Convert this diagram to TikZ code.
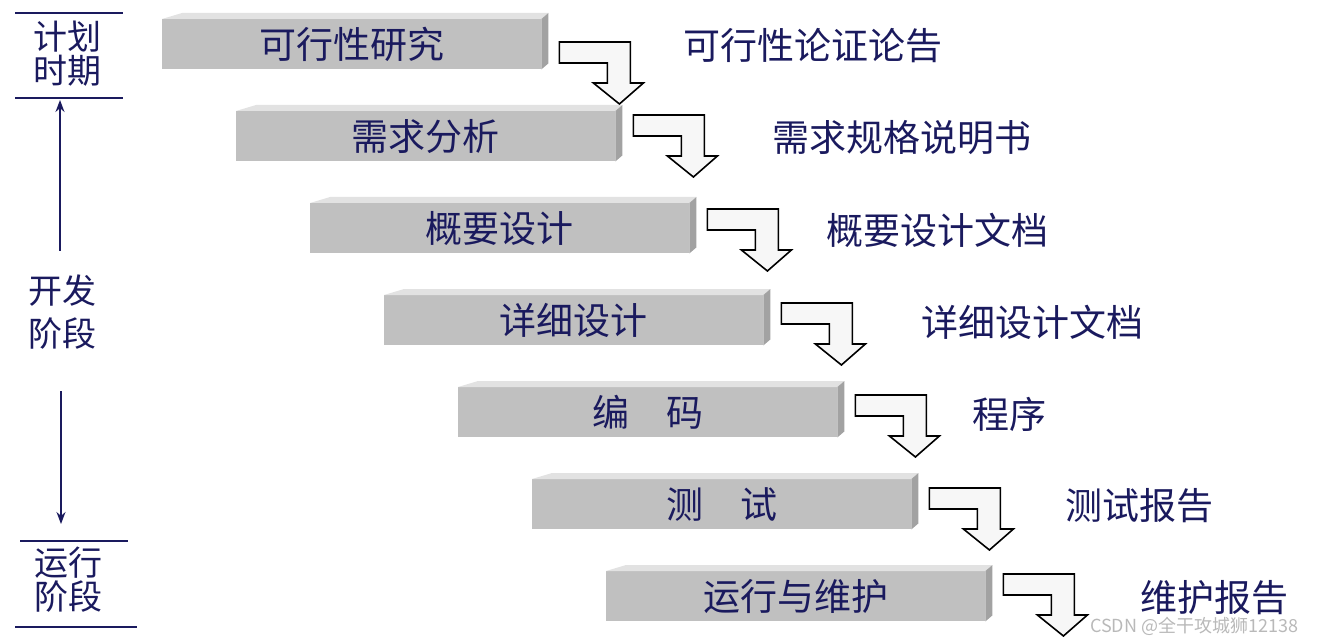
\documentclass[tikz,border=0pt]{standalone}
\usepackage{fontspec}
\setmainfont{Noto Sans CJK SC}
\usepackage{xcolor}
\usetikzlibrary{positioning,calc,arrows.meta}
\definecolor{navy}{HTML}{1A1A5E}
\definecolor{boxface}{HTML}{C0C0C0}
\definecolor{boxtop}{HTML}{E2E2E2}
\definecolor{boxside}{HTML}{A2A2A2}
\definecolor{arrowfill}{HTML}{F7F7F7}
\tikzset{
    stagebox/.style={anchor=north west, fill=boxface, minimum width=379pt, minimum height=50pt,
        inner sep=0pt, text=navy, font=\fontsize{37}{40}\selectfont},
    doclabel/.style={anchor=west, inner sep=0pt, text=navy, font=\fontsize{37}{40}\selectfont},
    phaselabel/.style={align=center, inner sep=0pt, text=navy, font=\fontsize{34}{34}\selectfont},
    phaseline/.style={draw=navy, line width=1.6pt},
    phasearrow/.style={draw=navy, line width=1.6pt, -{Stealth[length=12pt,width=9pt]}},
    bendarrow/.style={draw=black, fill=arrowfill, line width=1.6pt, line join=miter}
}
\begin{document}
\begin{tikzpicture}[x=1pt, y=-1pt]
        \useasboundingbox (0,0) rectangle (1337,644);

        % stages, bevels, bent arrows and documents
        \foreach \i/\stage/\doc/\docx/\at in {1/可行性研究/可行性论证论告/683/42,
                2/需求分析/需求规格说明书/772/115,
                3/概要设计/概要设计文档/826/209,
                4/详细设计/详细设计文档/921/303,
                5/编\quad 码/程序/972/395,
                6/测\quad 试/测试报告/1065/488,
                7/运行与维护/维护报告/1140/574}{
            \node[stagebox] (s\i) at ({162+74*(\i-1)},{19+92*(\i-1)}) {\stage};
            \fill[boxtop] (s\i.north west) -- ++(20,-6) -- ([xshift=7pt,yshift=6pt]s\i.north east) -- (s\i.north east) -- cycle;
            \fill[boxside] (s\i.north east) -- ++(7,-6) -- ([xshift=7pt,yshift=6pt]s\i.south east) -- (s\i.south east) -- cycle;
            \draw[bendarrow] ([xshift=18pt]s\i.north east |- 0,\at) -- ++(71,0) -- ++(0,41) -- ++(13,0)
                -- ++(-24,21) -- ++(-26,-21) -- ++(14,0) -- ++(0,-20) -- ++(-48,0) -- cycle;
            \node[doclabel] (d\i) at (\docx,{46+92*(\i-1)}) {\doc};
        }

        % phases on the left
        \node[phaselabel] (plan) at (67,54) {计划\\时期};
        \node[phaselabel, font=\fontsize{34}{43}\selectfont] (dev) at (62,312) {开发\\阶段};
        \node[phaselabel] (run) at (68,580) {运行\\阶段};

        \draw[phaseline] (15,13) -- (123,13);
        \draw[phaseline] (15,98) coordinate (planrule) -- (123,98);
        \draw[phaseline] (20,541) coordinate (runrule) -- (128,541);
        \draw[phaseline] (15,627) -- (137,627);

        \coordinate (devtop) at (60,100);
        \coordinate (devbot) at (61,524);
        \draw[phasearrow] ([yshift=24pt]dev.north -| devtop) -- (devtop);
        \draw[phasearrow] ([yshift=-42pt]dev.south -| devbot) -- (devbot);

        % watermark
        \node[anchor=west, inner sep=0pt, text=gray!55, font=\fontsize{18}{20}\selectfont] (mark) at (1090,626) {CSDN @全干攻城狮12138};
    \end{tikzpicture}
\end{document}
